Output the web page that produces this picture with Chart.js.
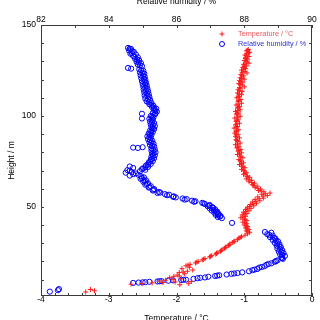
<!DOCTYPE html>
<html>
<head>
<meta charset="utf-8">
<script src="https://cdn.jsdelivr.net/npm/chart.js@4.4.0/dist/chart.umd.min.js"></script>
<style>
  html, body { margin: 0; padding: 0; background: #fff; }
  #wrap { width: 320px; height: 320px; position: relative; }
</style>
</head>
<body>
<div id="wrap"><canvas id="myChart" width="320" height="320"></canvas></div>
<script>

// temperature profile (height in m, temperature in degC)
const tempHeight = [
  136.5, 135.8, 135.0, 134.2, 133.5, 132.7, 132.0, 131.2, 130.5, 129.7, 129.0, 128.2, 127.5, 126.6, 126.0,
  125.2, 124.4, 123.6, 122.8, 122.0, 121.0, 120.2, 119.4, 118.6, 117.8, 117.0, 116.0, 115.2, 114.4, 113.5,
  112.6, 111.7, 110.8, 110.0, 109.0, 108.0, 107.0, 106.0, 105.2, 104.3, 103.4, 102.5, 101.6, 100.7, 99.8,
  98.8, 97.9, 97.0, 96.0, 95.1, 94.2, 93.3, 92.4, 91.5, 90.6, 89.7, 88.8, 87.9, 87.0, 86.0,
  85.1, 84.2, 83.3, 82.4, 81.5, 80.6, 79.7, 78.8, 77.9, 77.0, 76.0, 75.1, 74.2, 73.3, 72.4,
  71.5, 70.6, 69.7, 68.8, 67.9, 67.0, 66.2, 65.4, 64.6, 63.8, 63.0, 62.2, 61.4, 60.6, 59.8,
  59.0, 58.3, 57.6, 56.9, 56.2, 55.5, 54.8, 54.1, 53.4, 52.7, 52.0, 51.3, 50.6, 49.9, 49.2,
  48.5, 47.8, 47.1, 46.4, 45.6, 44.8, 44.0, 43.2, 42.4, 41.6, 40.8, 40.0, 39.2, 38.4, 37.6,
  36.8, 36.0, 35.2, 34.4, 33.6, 32.8, 32.0, 31.2, 30.4, 29.6, 28.8, 28.0, 27.2, 26.4, 25.6,
  24.8, 24.0, 23.2, 22.4, 21.6, 20.8, 20.0, 19.2, 18.4, 17.6, 16.8, 16.0, 15.3, 14.6, 13.9,
  13.2, 12.5, 11.8, 11.1, 10.4, 9.7, 9.2, 9.0, 8.7, 8.2, 8.0, 7.8, 7.5, 7.2, 4.6,
  3.9, 3.2,
  136.0, 134.6, 133.1, 131.6, 130.1, 128.6, 127.1, 125.6, 124.0, 122.4, 120.6, 119.0, 117.4, 115.6, 113.9,
  112.1, 110.4, 108.5, 106.5, 104.7, 103.0, 101.2, 99.3, 97.4, 95.6, 93.8, 91.9, 90.1, 88.3, 86.5,
  84.6, 82.8, 81.0, 79.2, 77.4, 75.6, 73.8, 72.0, 70.2, 68.4, 66.6, 64.9, 63.4, 61.8, 60.2,
  58.7, 57.2, 55.9, 54.5, 53.0, 51.6, 50.2, 48.8, 47.4, 46.0, 44.4, 42.8, 41.2, 39.6, 38.0,
  36.4, 33.2, 30.8, 29.2, 27.6, 26.0, 24.4, 22.8, 21.2, 19.6, 18.0, 14.2, 12.0, 10.0, 8.4
];
const tempValue = [
  -0.94, -0.97, -0.92, -0.96, -0.99, -0.93, -0.98, -0.95, -1.00, -0.96, -0.93, -1.01, -0.97, -1.02, -0.98,
  -1.04, -0.99, -0.96, -1.05, -1.01, -1.06, -1.00, -1.07, -1.02, -1.08, -1.03, -1.00, -1.06, -1.09, -1.03,
  -1.10, -1.04, -1.07, -1.11, -1.05, -1.09, -1.04, -1.12, -1.07, -1.10, -1.06, -1.13, -1.08, -1.11, -1.06,
  -1.14, -1.09, -1.12, -1.07, -1.13, -1.10, -1.15, -1.08, -1.12, -1.14, -1.09, -1.13, -1.07, -1.12, -1.10,
  -1.06, -1.13, -1.08, -1.11, -1.05, -1.09, -1.04, -1.10, -1.06, -1.02, -1.08, -1.05, -1.01, -1.07, -1.03,
  -0.99, -1.04, -1.00, -0.97, -1.01, -0.95, -0.92, -0.97, -0.89, -0.93, -0.85, -0.88, -0.81, -0.84, -0.76,
  -0.79, -0.71, -0.62, -0.74, -0.66, -0.80, -0.72, -0.84, -0.77, -0.88, -0.82, -0.91, -0.86, -0.95, -0.90,
  -0.98, -0.93, -1.01, -0.96, -1.03, -0.98, -1.05, -1.00, -0.96, -1.02, -0.97, -1.00, -0.95, -0.98, -0.93,
  -0.97, -0.92, -0.95, -0.99, -1.04, -1.08, -1.10, -1.15, -1.17, -1.21, -1.23, -1.27, -1.29, -1.33, -1.35,
  -1.40, -1.42, -1.48, -1.51, -1.58, -1.62, -1.68, -1.72, -1.80, -1.86, -1.81, -1.92, -1.76, -1.84, -1.96,
  -1.88, -1.99, -2.04, -2.10, -1.93, -2.16, -2.25, -1.78, -2.02, -2.36, -1.82, -2.51, -2.67, -1.95, -3.27,
  -3.21, -3.34,
  -0.95, -0.94, -0.97, -0.98, -0.97, -0.99, -1.00, -1.01, -1.03, -1.03, -1.04, -1.05, -1.06, -1.07, -1.07,
  -1.08, -1.09, -1.08, -1.09, -1.09, -1.10, -1.11, -1.10, -1.11, -1.11, -1.12, -1.11, -1.12, -1.11, -1.11,
  -1.10, -1.10, -1.08, -1.07, -1.05, -1.06, -1.04, -1.02, -1.01, -0.99, -0.96, -0.93, -0.89, -0.86, -0.80,
  -0.75, -0.69, -0.72, -0.78, -0.83, -0.87, -0.92, -0.96, -0.98, -1.00, -1.02, -0.99, -0.99, -0.97, -0.96,
  -0.95, -1.06, -1.15, -1.22, -1.28, -1.34, -1.41, -1.50, -1.60, -1.70, -1.83, -1.90, -1.96, -2.05, -2.20
];

// relative humidity profile (height in m, RH in %)
const rhHeight = [
  137.4, 136.8, 136.0, 135.2, 134.6, 133.8, 133.0, 132.2, 131.4, 130.6, 129.8, 129.0, 128.2, 127.4, 126.4,
  126.0, 125.6, 124.8, 124.0, 123.2, 122.4, 121.6, 120.8, 120.0, 119.2, 118.4, 117.6, 116.8, 116.0, 115.2,
  114.4, 113.6, 112.8, 112.0, 111.2, 110.4, 109.6, 108.8, 108.0, 107.2, 106.4, 105.6, 104.8, 104.0, 103.2,
  102.4, 101.6, 101.2, 100.8, 100.0, 99.2, 98.6, 98.4, 97.6, 96.8, 96.0, 95.2, 94.4, 93.6, 92.8,
  92.0, 91.2, 90.4, 89.6, 88.8, 88.0, 87.2, 86.4, 85.6, 84.8, 84.0, 83.2, 82.8, 82.6, 82.4,
  82.2, 81.6, 80.8, 80.0, 79.2, 78.4, 77.6, 76.8, 76.0, 75.2, 74.4, 73.6, 72.8, 72.2, 72.0,
  71.4, 71.2, 70.4, 70.2, 69.6, 69.2, 68.8, 68.4, 67.6, 67.2, 66.8, 66.2, 65.4, 64.6, 63.8,
  63.0, 62.2, 61.4, 60.6, 59.8, 59.0, 58.2, 57.6, 57.0, 56.4, 55.8, 55.2, 54.6, 54.0, 53.4,
  52.8, 52.2, 51.6, 51.0, 50.4, 49.8, 49.2, 48.6, 48.0, 47.4, 46.8, 46.2, 45.6, 45.0, 44.4,
  43.8, 41.2, 36.2, 35.8, 35.0, 34.2, 33.4, 32.6, 31.8, 31.0, 30.2, 29.4, 28.6, 27.8, 27.0,
  26.2, 25.4, 24.6, 23.8, 23.0, 22.2, 21.4, 20.6, 19.8, 19.0, 18.2, 17.4, 16.6, 15.8, 15.2,
  14.6, 14.0, 13.6, 13.2, 12.8, 12.4, 12.0, 11.6, 11.2, 10.8, 10.4, 10.0, 9.8, 9.6, 9.4,
  9.2, 9.0, 8.8, 8.6, 8.4, 8.2, 4.8, 4.2, 3.4,
  137.0, 135.6, 134.2, 132.6, 131.0, 129.4, 127.8, 125.2, 123.6, 122.0, 120.4, 118.8, 117.2, 115.6, 114.0,
  112.4, 110.8, 109.2, 107.6, 106.0, 104.4, 102.8, 101.4, 99.6, 98.0, 96.4, 94.8, 93.2, 91.6, 90.0,
  88.4, 86.8, 85.2, 83.6, 81.2, 79.6, 78.0, 76.4, 74.8, 73.2, 71.8, 70.8, 69.9, 68.0, 65.8,
  64.2, 62.6, 61.0, 59.4, 57.9, 56.7, 55.5, 54.3, 53.1, 51.9, 50.7, 49.5, 48.3, 47.1, 45.9,
  44.7, 34.6, 33.0, 31.4, 29.8, 28.2, 26.6, 25.0, 23.4, 21.8, 20.2, 18.6, 17.0, 15.5, 13.4,
  12.2, 11.0, 9.9, 9.1, 8.5
];
const rhValue = [
  84.57, 84.66, 84.60, 84.74, 84.68, 84.80, 84.72, 84.86, 84.78, 84.90, 84.82, 84.95, 84.86, 84.98, 84.57,
  84.66, 84.90, 85.02, 84.92, 85.05, 84.94, 85.06, 84.96, 85.08, 84.98, 85.10, 85.00, 85.12, 85.02, 85.14,
  85.03, 85.16, 85.05, 85.18, 85.06, 85.20, 85.08, 85.22, 85.12, 85.26, 85.20, 85.32, 85.28, 85.40, 85.34,
  85.42, 85.30, 84.98, 85.36, 85.24, 85.32, 84.98, 85.20, 85.30, 85.22, 85.34, 85.24, 85.36, 85.26, 85.34,
  85.22, 85.30, 85.18, 85.26, 85.14, 85.24, 85.16, 85.28, 85.20, 85.32, 85.22, 85.34, 85.00, 84.72, 84.86,
  85.26, 85.36, 85.26, 85.38, 85.28, 85.36, 85.26, 85.34, 85.24, 85.30, 85.18, 85.24, 85.10, 84.62, 85.16,
  84.72, 85.02, 85.08, 84.55, 84.92, 84.68, 84.50, 84.80, 84.88, 84.62, 84.96, 85.04, 84.94, 85.10, 85.02,
  85.16, 85.08, 85.24, 85.18, 85.34, 85.30, 85.48, 85.44, 85.66, 85.72, 85.92, 85.98, 86.18, 86.24, 86.46,
  86.52, 86.76, 86.84, 86.98, 86.92, 87.06, 86.98, 87.14, 87.04, 87.20, 87.12, 87.24, 87.16, 87.30, 87.22,
  87.34, 87.64, 88.61, 88.80, 88.68, 88.84, 88.76, 88.92, 88.84, 89.00, 88.90, 89.04, 88.96, 89.08, 88.98,
  89.12, 89.02, 89.16, 89.06, 89.20, 89.10, 89.14, 88.98, 88.90, 88.80, 88.66, 88.60, 88.44, 88.38, 88.24,
  88.14, 87.94, 87.80, 87.62, 87.48, 87.26, 87.14, 86.94, 86.84, 86.62, 86.50, 86.28, 86.14, 85.90, 85.76,
  85.56, 85.44, 85.20, 85.08, 84.88, 84.72, 82.53, 82.50, 82.26,
  84.62, 84.70, 84.64, 84.76, 84.84, 84.88, 84.92, 84.96, 85.00, 85.02, 85.04, 85.06, 85.08, 85.08, 85.10,
  85.12, 85.14, 85.16, 85.18, 85.26, 85.34, 85.38, 85.38, 85.28, 85.26, 85.28, 85.30, 85.30, 85.26, 85.22,
  85.20, 85.22, 85.26, 85.28, 85.32, 85.32, 85.30, 85.28, 85.22, 85.16, 85.08, 84.98, 84.62, 84.72, 84.98,
  85.06, 85.12, 85.20, 85.32, 85.52, 85.78, 85.90, 86.30, 86.56, 86.80, 86.96, 87.08, 87.10, 87.18, 87.22,
  87.28, 88.74, 88.88, 88.94, 88.98, 89.04, 89.06, 89.10, 89.12, 89.12, 88.94, 88.72, 88.52, 88.30, 87.70,
  87.20, 86.70, 86.20, 85.50, 85.00
];

// labelled ticks
const tempTicks = [-4, -3, -2, -1, 0];
const rhTicks = [82, 84, 86, 88, 90];
const heightTicks = [50, 100, 150];

const tempPoints = tempValue.map((v, i) => ({ x: v, y: tempHeight[i] }));
const rhPoints = rhValue.map((v, i) => ({ x: v, y: rhHeight[i] }));

const FONT = '"Liberation Sans", Arial, sans-serif';
const AXIS_COLOR = '#3a3a3a';
const TEMP_COLOR = '#ff1a1a';
const RH_COLOR = '#0000ff';

// box round the plot + inward minor ticks (matlab look)
const boxTicksPlugin = {
  id: 'boxTicks',
  afterDatasetsDraw(chart) {
    const { ctx, chartArea: a, scales } = chart;
    const len = 3;
    ctx.save();
    ctx.strokeStyle = AXIS_COLOR;
    ctx.lineWidth = 1;
    ctx.strokeRect(a.left + 0.5, a.top + 0.5, a.right - a.left - 1, a.bottom - a.top - 1);

    ctx.beginPath();
    // bottom: every 0.2 degC
    for (let i = 0; i <= 20; i++) {
      const px = Math.round(scales.x.getPixelForValue(-4 + i * 0.2)) + 0.5;
      ctx.moveTo(px, a.bottom);
      ctx.lineTo(px, a.bottom - len);
    }
    // top: every 1 %
    for (let i = 0; i <= 8; i++) {
      const px = Math.round(scales.x2.getPixelForValue(82 + i)) + 0.5;
      ctx.moveTo(px, a.top);
      ctx.lineTo(px, a.top + len);
    }
    // left and right: every 10 m
    for (let v = 10; v <= 150; v += 10) {
      const py = Math.round(scales.y.getPixelForValue(v)) + 0.5;
      ctx.moveTo(a.left, py);
      ctx.lineTo(a.left + len, py);
      ctx.moveTo(a.right, py);
      ctx.lineTo(a.right - len, py);
    }
    ctx.stroke();
    ctx.restore();
  }
};

// legend in the top right corner of the plot
const cornerLegendPlugin = {
  id: 'cornerLegend',
  afterDraw(chart) {
    const { ctx, chartArea: a } = chart;
    const mx = a.right - 90;
    const tx = a.right - 74;
    const y1 = a.top + 9;
    const y2 = a.top + 19;
    ctx.save();
    ctx.lineWidth = 1;

    ctx.strokeStyle = TEMP_COLOR;
    ctx.beginPath();
    ctx.moveTo(mx - 2.5, y1);
    ctx.lineTo(mx + 2.5, y1);
    ctx.moveTo(mx, y1 - 2.5);
    ctx.lineTo(mx, y1 + 2.5);
    ctx.stroke();

    ctx.strokeStyle = RH_COLOR;
    ctx.beginPath();
    ctx.arc(mx, y2, 2.5, 0, Math.PI * 2);
    ctx.stroke();

    ctx.font = '7.3px ' + FONT;
    ctx.textBaseline = 'middle';
    ctx.textAlign = 'left';
    ctx.fillStyle = '#e85a5a';
    ctx.fillText('Temperature / °C', tx, y1);
    ctx.fillStyle = '#3030e0';
    ctx.fillText('Relative humidity / %', tx, y2);
    ctx.restore();
  }
};

const ctx = document.querySelector('#myChart').getContext('2d');

// eslint-disable-next-line no-undef
new Chart(ctx, {
  type: 'scatter',
  data: {
    datasets: [{
      label: 'Temperature / °C',
      data: tempPoints,
      xAxisID: 'x',
      yAxisID: 'y',
      pointStyle: 'cross',
      pointRadius: 2.5,
      borderColor: TEMP_COLOR,
      backgroundColor: TEMP_COLOR,
      borderWidth: 1,
    },
    {
      label: 'Relative humidity / %',
      data: rhPoints,
      xAxisID: 'x2',
      yAxisID: 'y',
      pointStyle: 'circle',
      pointRadius: 2.6,
      borderColor: RH_COLOR,
      backgroundColor: 'rgba(0,0,0,0)',
      borderWidth: 1,
    }]
  },
  options: {
    responsive: false,
    maintainAspectRatio: false,
    animation: false,
    devicePixelRatio: 1,
    layout: { padding: { left: 0, right: 8, top: 0, bottom: 0 } },
    plugins: {
      legend: { display: false },
      tooltip: { enabled: false },
    },
    scales: {
      x: {
        type: 'linear',
        position: 'bottom',
        min: -4,
        max: 0,
        grid: { display: false, drawTicks: false },
        border: { display: false },
        afterBuildTicks: (scale) => { scale.ticks = tempTicks.map(v => ({ value: v })); },
        afterFit: (scale) => { scale.height = 24; },
        ticks: { padding: -1, color: '#000', font: { family: FONT, size: 8.5 }, maxRotation: 0 },
        title: {
          display: true,
          text: 'Temperature / °C',
          color: '#000',
          font: { family: FONT, size: 8.5 },
          padding: { top: 0, bottom: -4 },
        },
      },
      x2: {
        type: 'linear',
        position: 'top',
        min: 82,
        max: 90,
        grid: { display: false, drawTicks: false },
        border: { display: false },
        afterBuildTicks: (scale) => { scale.ticks = rhTicks.map(v => ({ value: v })); },
        afterFit: (scale) => { scale.height = 25; },
        ticks: { padding: 0, color: '#000', font: { family: FONT, size: 8.5 }, maxRotation: 0 },
        title: {
          display: true,
          text: 'Relative humidity / %',
          color: '#000',
          font: { family: FONT, size: 8.5 },
          padding: { top: -3, bottom: 0 },
        },
      },
      y: {
        type: 'linear',
        position: 'left',
        min: 1,
        max: 150,
        grid: { display: false, drawTicks: false },
        border: { display: false },
        afterBuildTicks: (scale) => { scale.ticks = heightTicks.map(v => ({ value: v })); },
        afterFit: (scale) => { scale.width = 41; },
        ticks: { padding: 5, color: '#000', font: { family: FONT, size: 8.5 } },
        title: {
          display: true,
          text: 'Height / m',
          color: '#000',
          font: { family: FONT, size: 8.5 },
          padding: { top: 7, bottom: 0 },
        },
      },
    },
  },
  plugins: [boxTicksPlugin, cornerLegendPlugin],
});

</script>
</body>
</html>
